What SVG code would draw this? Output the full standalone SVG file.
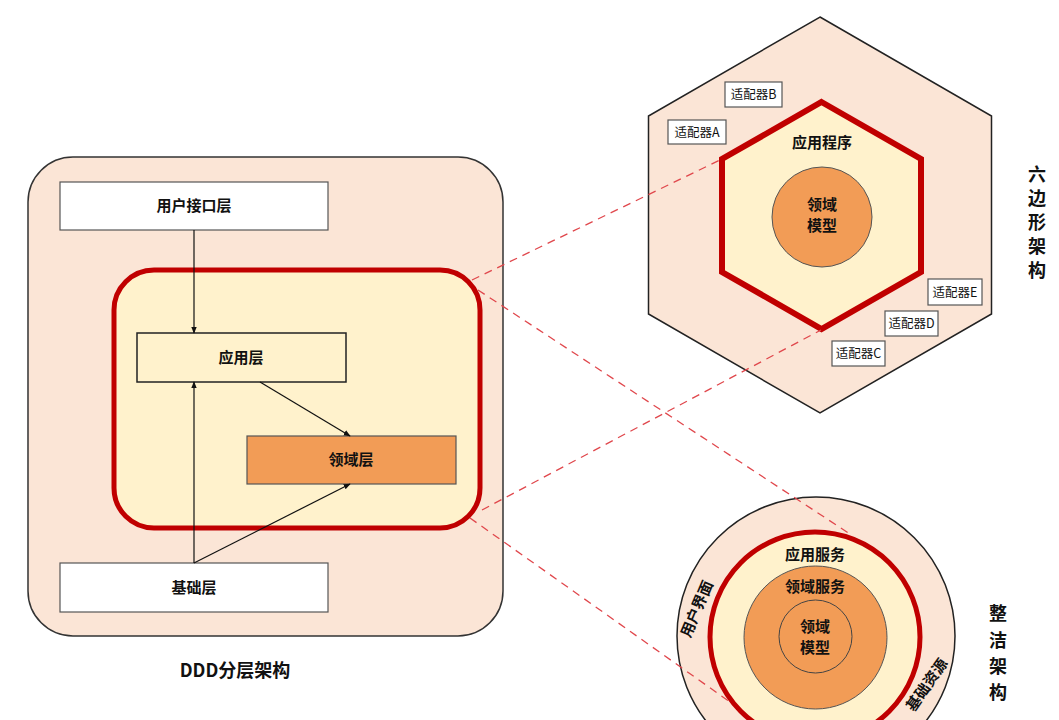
<svg xmlns="http://www.w3.org/2000/svg" width="1059" height="720" viewBox="0 0 1059 720">
<defs>
<marker id="arr" viewBox="0 0 10 10" refX="9" refY="5" markerWidth="7" markerHeight="7" orient="auto" markerUnits="userSpaceOnUse">
<path d="M0,1 L10,5 L0,9 Z" fill="#111"/>
</marker>
<style>
text{font-family:"Noto Sans CJK SC","Noto Sans",sans-serif;fill:#111;}
.b{font-weight:bold;font-size:15px;}
.ad{font-size:12.5px;}
.box{fill:#fff;stroke:#555;stroke-width:1.2;}
.peach{fill:#FBE5D6;}
.cream{fill:#FFF2CC;}
.orange{fill:#F29C56;}
.conn{stroke:#111;stroke-width:1.2;fill:none;marker-end:url(#arr);}
.dash{stroke:#E0474C;stroke-width:1.3;stroke-dasharray:8,6;fill:none;}
.big{font-weight:bold;font-size:18px;}
.big2{font-weight:bold;font-size:18px;}
.title{font-weight:bold;font-size:18px;}
</style>
</defs>
<rect width="1059" height="720" fill="#fff"/>

<g id="ddd-layers">
<rect x="28" y="157" width="475" height="479" rx="45" class="peach" stroke="#333" stroke-width="1.5"/>
</g>
<g id="core-area">
<rect x="114" y="270" width="366" height="258" rx="40" class="cream" stroke="#C00000" stroke-width="5"/>
</g>
<g id="ui-layer">
<rect x="60" y="182" width="268" height="48" class="box"/>
<text x="194" y="211" text-anchor="middle" class="b">用户接口层</text>
</g>
<g id="app-layer">
<rect x="137" y="333" width="209" height="49" fill="#FFF2CC" stroke="#222" stroke-width="1.5"/>
<text x="241" y="363" text-anchor="middle" class="b">应用层</text>
</g>
<g id="domain-layer">
<rect x="247" y="436" width="209" height="48" class="orange" stroke="#555" stroke-width="1.2"/>
<text x="351" y="465" text-anchor="middle" class="b">领域层</text>
</g>
<g id="infra-layer">
<rect x="60" y="563" width="268" height="49" class="box"/>
<text x="194" y="593" text-anchor="middle" class="b">基础层</text>
</g>
<g id="ddd-label">
<text x="235" y="677" text-anchor="middle" class="title">DDD分层架构</text>
</g>

<g id="hexagonal">
<polygon points="820,17 991.5,116 991.5,314 820,413 648.5,314 648.5,116" class="peach" stroke="#222" stroke-width="1.5"/>
<polygon points="821.5,102 921,159 921,272 821.5,329 722,272 722,159" class="cream" stroke="#C00000" stroke-width="6" stroke-linejoin="miter"/>
<text x="822" y="148" text-anchor="middle" class="b">应用程序</text>
<circle cx="822" cy="217" r="50" class="orange" stroke="#555" stroke-width="1"/>
<text x="822" y="210" text-anchor="middle" class="b">领域</text>
<text x="822" y="231" text-anchor="middle" class="b">模型</text>
</g>
<g id="adapter-b"><rect x="725" y="82" width="57" height="25" class="box"/><text x="753.5" y="99" text-anchor="middle" class="ad">适配器B</text></g>
<g id="adapter-a"><rect x="668" y="120" width="58" height="24" class="box"/><text x="697" y="137" text-anchor="middle" class="ad">适配器A</text></g>
<g id="adapter-e"><rect x="928" y="279" width="54" height="26" class="box"/><text x="955" y="297" text-anchor="middle" class="ad">适配器E</text></g>
<g id="adapter-d"><rect x="885" y="311" width="53" height="25" class="box"/><text x="911.5" y="328" text-anchor="middle" class="ad">适配器D</text></g>
<g id="adapter-c"><rect x="832" y="341" width="53" height="25" class="box"/><text x="858.5" y="358" text-anchor="middle" class="ad">适配器C</text></g>
<g id="hex-label">
<text x="1037" y="181" text-anchor="middle" class="big">六</text>
<text x="1037" y="205" text-anchor="middle" class="big">边</text>
<text x="1037" y="229" text-anchor="middle" class="big">形</text>
<text x="1037" y="253" text-anchor="middle" class="big">架</text>
<text x="1037" y="277" text-anchor="middle" class="big">构</text>
</g>

<g id="clean">
<circle cx="816" cy="636" r="139" class="peach" stroke="#222" stroke-width="1.5"/>
<circle cx="815" cy="637" r="105" class="cream" stroke="#C00000" stroke-width="5"/>
<circle cx="815.5" cy="637.5" r="71.5" class="orange" stroke="#555" stroke-width="1"/>
<circle cx="815.5" cy="636.5" r="36.5" fill="none" stroke="#444" stroke-width="1"/>
<text x="815" y="560" text-anchor="middle" class="b">应用服务</text>
<text x="815" y="592" text-anchor="middle" class="b">领域服务</text>
<text x="815" y="632" text-anchor="middle" class="b">领域</text>
<text x="815" y="653" text-anchor="middle" class="b">模型</text>
<text x="0" y="0" text-anchor="middle" class="b" transform="translate(697,609) rotate(-67) translate(0,5)">用户界面</text>
<text x="0" y="0" text-anchor="middle" class="b" transform="translate(927,685) rotate(-55) translate(0,5)">基础资源</text>
</g>
<g id="clean-label">
<text x="998" y="620" text-anchor="middle" class="big2">整</text>
<text x="998" y="647" text-anchor="middle" class="big2">洁</text>
<text x="998" y="673" text-anchor="middle" class="big2">架</text>
<text x="998" y="699" text-anchor="middle" class="big2">构</text>
</g>

<g id="connectors">
<line x1="194" y1="230" x2="194" y2="333" class="conn"/>
<line x1="194" y1="563" x2="194" y2="382" class="conn"/>
<line x1="260" y1="382" x2="350" y2="436" class="conn"/>
<line x1="194" y1="563" x2="350" y2="484" class="conn"/>
<line x1="472" y1="280" x2="722" y2="159" class="dash"/>
<line x1="478" y1="290" x2="850" y2="534" class="dash"/>
<line x1="482" y1="510" x2="821" y2="330" class="dash"/>
<line x1="470" y1="518" x2="730" y2="702" class="dash"/>
</g>
</svg>
